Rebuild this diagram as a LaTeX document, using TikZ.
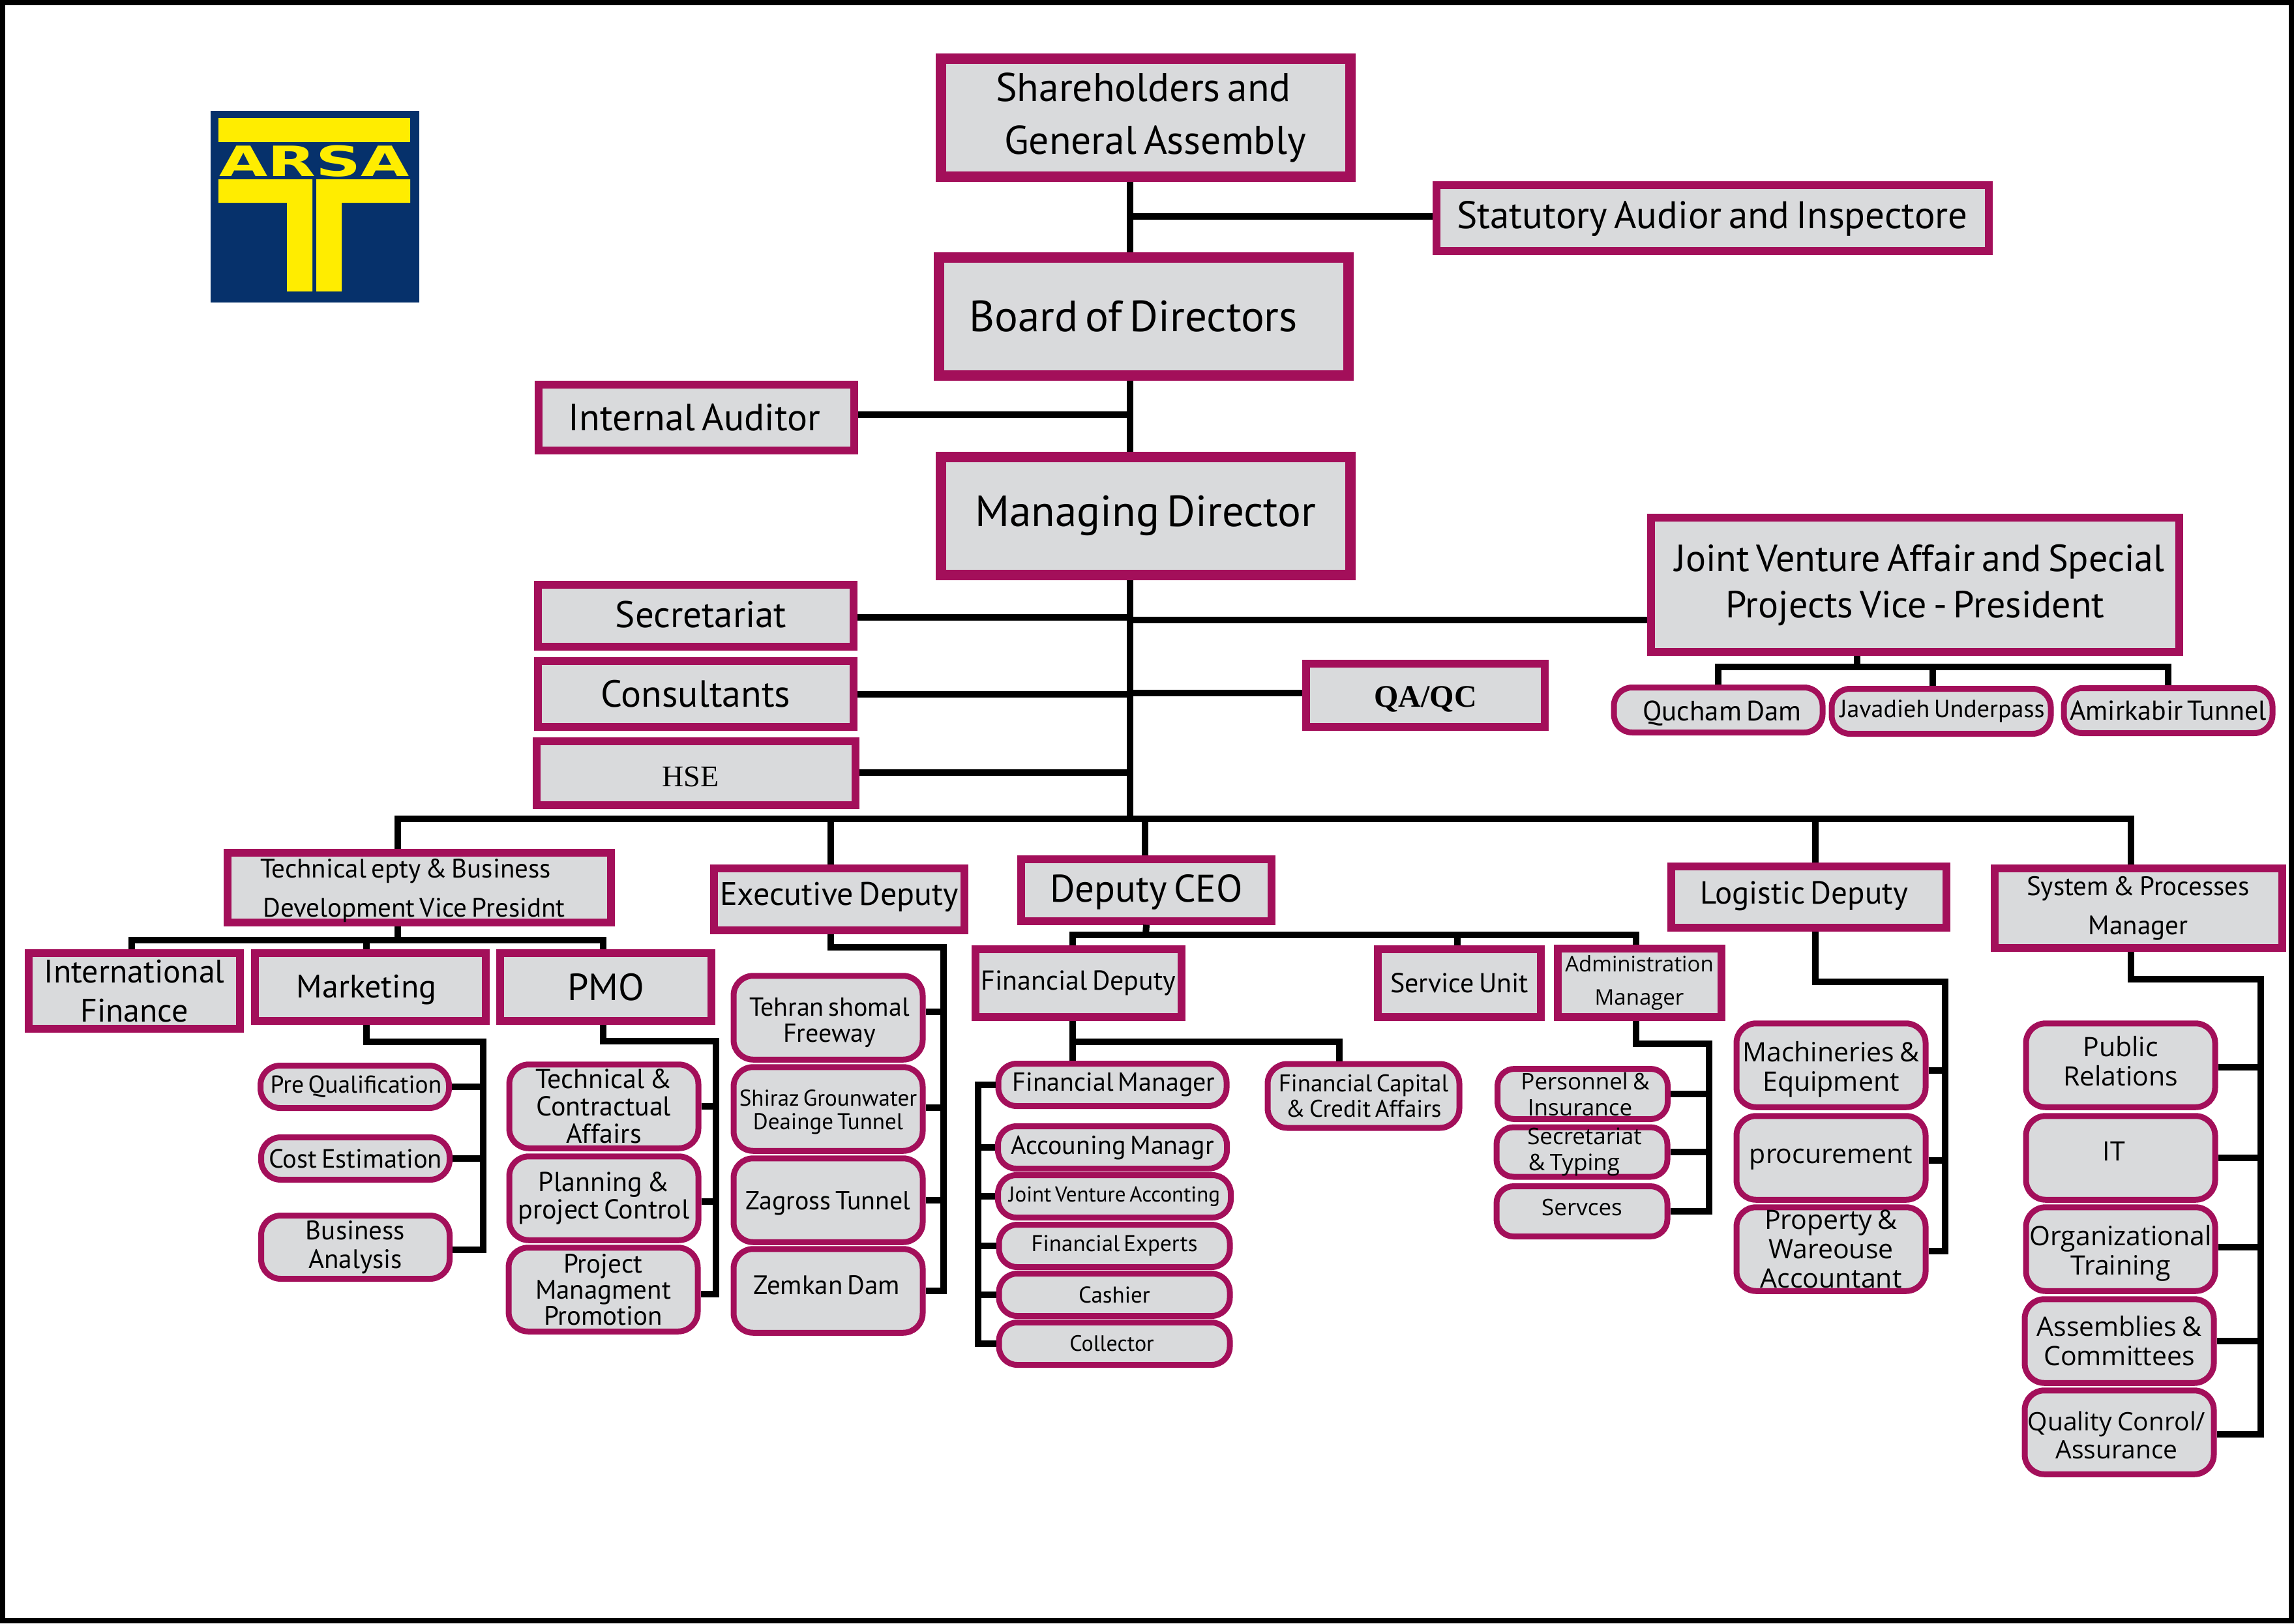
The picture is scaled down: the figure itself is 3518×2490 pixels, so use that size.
\documentclass[tikz,border=0pt]{standalone}
\usepackage{fontspec}
\usepackage{xcolor}
\usepackage{tikz}
\usetikzlibrary{arrows.meta,positioning,calc}
\setmainfont[WordSpace=0.65]{PT Sans}
\newfontfamily\widefont[WordSpace=0.8]{Open Sans}
\newfontfamily\timesfont{Liberation Serif}
\newfontfamily\logofont{DejaVu Sans}
\newcommand{\sz}[2]{\fontsize{#1}{#2}\selectfont}
\newcommand{\nudge}[3]{\makebox[0pt]{\hspace*{#1}\hspace*{#1}\raisebox{#2}[\height][\depth]{\begin{tabular}{@{}c@{}}#3\end{tabular}}}}
\definecolor{arsared}{RGB}{163,15,90}
\definecolor{arsagray}{RGB}{217,218,220}
\definecolor{arsanavy}{RGB}{6,49,107}
\definecolor{arsayellow}{RGB}{255,237,0}

\begin{document}
\begin{tikzpicture}[
    x=1pt, y=-1pt,
    dept/.style={rectangle, draw=arsared, fill=arsagray, line width=12pt, inner sep=0pt, align=center},
    topdept/.style={dept, line width=16pt, minimum width=628pt, minimum height=181pt, font=\sz{67}{81}},
    unit/.style={rectangle, rounded corners=30pt, draw=arsared, fill=arsagray, line width=9pt, inner sep=0pt, align=center},
    tallunit/.style={unit, minimum width=290pt, minimum height=128.5pt},
    slimunit/.style={unit, rounded corners=28pt, minimum height=65pt},
    wire/.style={draw=black, line width=10pt, miter limit=10}
]
    % frame
    \useasboundingbox (0,0) rectangle (3518,2490);
    \draw[black, line width=8pt] (4,4) rectangle (3514,2486);

    % logo
    \fill[arsanavy] (323,170) rectangle (643,464);
    \fill[arsayellow] (335,181) rectangle (629,218);
    \fill[arsayellow] (335,275) -- (479,275) -- (479,447) -- (440,447) -- (440,311) -- (335,311) -- cycle;
    \fill[arsayellow] (485,275) -- (629,275) -- (629,311) -- (524,311) -- (524,447) -- (485,447) -- cycle;
    \node[text=arsayellow, font=\logofont\bfseries\sz{64}{64}, inner sep=0pt, xscale=1.5, transform shape] (brand) at (482,247) {ARSA};

    % top of the chart
    \node[topdept, font=\sz{61.5}{81}] (share) at (1757,180) {\hspace*{-7pt}Shareholders and\\\hspace*{29pt}General Assembly};
    \node[topdept] (board) at (1754,485) {Board of Directors\hspace*{32pt}};
    \node[topdept] (managing) at (1757,791) {Managing Director};
    \node[dept, minimum width=847pt, minimum height=101pt, font=\sz{59}{60}] (statutory) at (2626,334) {\nudge{0pt}{-4pt}{Statutory Audior and Inspectore}};
    \node[dept, minimum width=484pt, minimum height=101pt, font=\sz{58}{60}] (internal) at (1068,640) {Internal Auditor\hspace*{6pt}};
    \node[dept, minimum width=810pt, minimum height=206pt, font=\sz{58}{71}] (jv) at (2937,897) {\hspace*{14pt}Joint Venture Affair and Special\\Projects Vice - President};
    \node[dept, minimum width=484pt, minimum height=95pt, font=\sz{57}{60}] (secretariat) at (1067,944) {\nudge{8pt}{-6pt}{Secretariat}};
    \node[dept, minimum width=484pt, minimum height=101pt, font=\sz{58}{60}] (consultants) at (1067,1064) {Consultants};
    \node[dept, minimum width=489pt, minimum height=98pt, font=\timesfont\sz{46}{50}] (hse) at (1067,1186) {\nudge{-8pt}{-10pt}{HSE}};
    \node[dept, minimum width=366pt, minimum height=97pt, font=\timesfont\bfseries\sz{48}{50}] (qaqc) at (2186,1066) {\nudge{0pt}{-8pt}{QA/QC}};

    % joint venture projects
    \node[slimunit, minimum width=320pt, minimum height=69pt, font=\sz{43}{44}] (qucham) at (2635,1089) {\nudge{6pt}{-8pt}{Qucham Dam}};
    \node[slimunit, minimum width=336pt, minimum height=69pt, font=\sz{38}{44}] (javadieh) at (2977,1091) {\hspace*{3pt}Javadieh Underpass};
    \node[slimunit, minimum width=320pt, minimum height=69pt, font=\sz{42}{44}] (amirkabir) at (3325,1090) {Amirkabir Tunnel};

    % deputies
    \node[dept, minimum width=588pt, minimum height=107pt, font=\sz{41}{60}] (technical) at (643,1361) {\hspace*{-42pt}\raisebox{-5pt}[\height][\depth]{Technical epty \& Business}\\\hspace*{-16pt}\raisebox{-5pt}[\height][\depth]{Development Vice Presidnt}};
    \node[dept, minimum width=324pt, minimum height=116pt, font=\sz{50}{60}] (intl) at (206,1520) {International\\Finance};
    \node[dept, minimum width=354pt, minimum height=104pt, font=\sz{50}{60}] (marketing) at (568,1514) {\nudge{-6pt}{-4pt}{Marketing}};
    \node[dept, minimum width=324pt, minimum height=104pt, font=\sz{58}{60}] (pmo) at (929,1514) {PMO};
    \node[dept, minimum width=384pt, minimum height=95pt, font=\sz{50}{56}] (exec) at (1287,1379) {\nudge{0pt}{2pt}{Executive Deputy}};
    \node[dept, minimum width=384pt, minimum height=95pt, font=\sz{59}{60}] (deputy) at (1758,1365) {\nudge{0pt}{-6pt}{Deputy CEO}};
    \node[dept, minimum width=316pt, minimum height=104pt, font=\sz{42}{50}] (findep) at (1654,1508) {Financial Deputy};
    \node[dept, minimum width=250pt, minimum height=104pt, font=\sz{42}{50}] (service) at (2238,1508) {Service Unit};
    \node[dept, minimum width=251pt, minimum height=105pt, font=\widefont\sz{33}{51}] (admin) at (2514,1507) {Administration\\Manager};
    \node[dept, minimum width=422pt, minimum height=94pt, font=\sz{49}{50}] (logistic) at (2774,1376) {\nudge{-7pt}{0pt}{Logistic Deputy}};
    \node[dept, minimum width=441pt, minimum height=122pt, font=\sz{41}{60}] (system) at (3279,1393) {System \& Processes\\Manager};

    % marketing and pmo units
    \node[unit, minimum width=289pt, minimum height=65pt, font=\sz{37.5}{40}] (prequal) at (544,1667) {\hspace*{4pt}Pre Qualification};
    \node[unit, minimum width=289pt, minimum height=65pt, font=\sz{40.5}{40}] (cost) at (545,1777) {Cost Estimation};
    \node[unit, minimum width=289pt, minimum height=97pt, font=\sz{41}{44}] (business) at (545,1913) {Business\\Analysis};
    \node[tallunit, font=\sz{42}{42}] (contract) at (926,1697) {Technical \&\\Contractual\\Affairs};
    \node[tallunit, font=\sz{42}{42}] (planning) at (926,1838) {Planning \&\\project Control};
    \node[tallunit, font=\sz{41}{40}] (promotion) at (925,1978) {Project\\Managment\\Promotion};

    % executive units
    \node[tallunit, font=\sz{40}{40}] (tehran) at (1270,1561) {\nudge{2pt}{-9pt}{Tehran shomal\\Freeway}};
    \node[tallunit, font=\sz{35}{36}] (shiraz) at (1270,1701) {\nudge{0pt}{-6pt}{Shiraz Grounwater\\Deainge Tunnel}};
    \node[tallunit, font=\sz{40}{42}] (zagross) at (1270,1841) {\nudge{0pt}{-6pt}{Zagross Tunnel}};
    \node[tallunit, font=\sz{41}{42}] (zemkan) at (1270,1980) {\nudge{-2pt}{3pt}{Zemkan Dam}};

    % financial units
    \node[slimunit, minimum width=350pt, font=\sz{40}{42}] (finmgr) at (1706,1664) {\hspace*{4pt}Financial Manager};
    \node[slimunit, minimum width=351pt, font=\sz{40}{42}] (accounting) at (1706,1760) {Accouning Managr};
    \node[slimunit, minimum width=357pt, font=\sz{33}{42}] (jvaccount) at (1709,1835) {Joint Venture Acconting};
    \node[slimunit, minimum width=354pt, font=\sz{35}{42}] (experts) at (1709,1911) {Financial Experts};
    \node[slimunit, minimum width=354pt, font=\sz{35}{42}] (cashier) at (1709,1986) {Cashier};
    \node[slimunit, minimum width=354pt, font=\sz{34}{42}] (collector) at (1709,2061) {Collector\hspace*{8pt}};
    \node[unit, minimum width=294pt, minimum height=98pt, font=\sz{37}{39}] (capital) at (2091,1681) {Financial Capital\\\& Credit Affairs};

    % administration units
    \node[unit, rounded corners=26pt, minimum width=261pt, minimum height=77pt, font=\widefont\sz{35}{40}] (personnel) at (2427,1678) {\hspace*{8pt}Personnel \&\\\hspace*{-8pt}Insurance};
    \node[unit, rounded corners=26pt, minimum width=262pt, minimum height=76pt, font=\widefont\sz{35}{40}] (typing) at (2426,1767) {\hspace*{8pt}Secretariat\\\hspace*{-24pt}\& Typing};
    \node[unit, rounded corners=26pt, minimum width=262pt, minimum height=77pt, font=\widefont\sz{35}{40}] (servces) at (2426,1858) {\nudge{0pt}{2pt}{Servces}};

    % logistic units
    \node[tallunit, font=\widefont\sz{41}{45}] (machinery) at (2808,1634) {\nudge{0pt}{-8pt}{Machineries \&\\Equipment}};
    \node[tallunit, font=\widefont\sz{41}{45}] (procurement) at (2808,1776) {procurement};
    \node[tallunit, font=\widefont\sz{41}{45}] (property) at (2808,1916) {Property \&\\Wareouse\\Accountant};

    % system units
    \node[tallunit, font=\widefont\sz{41}{45}] (public) at (3252,1634) {\nudge{0pt}{0pt}{Public\\Relations}};
    \node[tallunit, font=\widefont\sz{41}{45}] (it) at (3252,1776) {\nudge{-10pt}{5pt}{IT}};
    \node[tallunit, font=\widefont\sz{41}{45}] (training) at (3252,1916) {\nudge{0pt}{-8pt}{Organizational\\Training}};
    \node[tallunit, font=\widefont\sz{41}{45}] (assemblies) at (3250,2057) {Assemblies \&\\Committees};
    \node[tallunit, font=\widefont\sz{39}{43}] (quality) at (3250,2197) {\nudge{-4pt}{-10pt}{Quality Conrol/\\Assurance}};

    % junctions
    \coordinate (trunk) at (1733,1256);
    \coordinate (busw) at (610,1256);
    \coordinate (buse) at (3268,1256);
    \coordinate (exec-top) at (1274,1256);
    \coordinate (deputy-top) at (1756,1256);
    \coordinate (logistic-top) at (2784,1256);
    \coordinate (jvbus) at (2848,1023);
    \coordinate (jvmid) at (2964,1023);
    \coordinate (techbus) at (610,1442);
    \coordinate (techw) at (202,1442);
    \coordinate (techm) at (562,1442);
    \coordinate (teche) at (925,1442);
    \coordinate (depbus) at (1757,1434);
    \coordinate (depw) at (1645,1434);
    \coordinate (depm) at (2235,1434);
    \coordinate (depe) at (2509,1434);
    \coordinate (findrop) at (1645,1598);
    \coordinate (finright) at (2054,1598);
    \coordinate (finrail) at (1500,1665);
    \coordinate (mktbend) at (562,1598);
    \coordinate (mktrail) at (741,1598);
    \coordinate (pmobend) at (925,1597);
    \coordinate (pmorail) at (1098,1597);
    \coordinate (exebend) at (1274,1453);
    \coordinate (exerail) at (1447,1453);
    \coordinate (admbend) at (2509,1601);
    \coordinate (admrail) at (2621,1601);
    \coordinate (logbend) at (2784,1506);
    \coordinate (lograil) at (2983,1506);
    \coordinate (sysbend) at (3268,1502);
    \coordinate (sysrail) at (3467,1502);

    % connectors
    \draw[wire] (share.south -| trunk) -- (board.north -| trunk);
    \draw[wire] (board.south -| trunk) -- (managing.north -| trunk);
    \draw[wire] (managing.south -| trunk) -- (trunk);
    \foreach \n/\s in {statutory.west/2, internal.east/4, secretariat.east/-3, consultants.east/-1, hse.east/1, qaqc.west/3, jv.west/-54}
        \draw[wire] ([yshift=\s pt]\n) -- ([yshift=\s pt]\n -| trunk);

    \draw[wire] (busw |- technical.north) -- (busw) -- (buse) -- (buse |- system.north);
    \foreach \n in {exec, deputy, logistic}
        \draw[wire] (\n-top) -- (\n-top |- \n.north);

    \draw[wire] (jvbus |- jv.south) -- (jvbus);
    \draw[wire] (qucham.north) |- (jvbus) -| (amirkabir.north);
    \draw[wire] (jvmid) -- (jvmid |- javadieh.north);

    \draw[wire] (techbus |- technical.south) -- (techbus);
    \draw[wire] (techw |- intl.north) -- (techw) -- (teche) -- (teche |- pmo.north);
    \draw[wire] (techm) -- (techm |- marketing.north);

    \draw[wire] (deputy.south) -- (depbus);
    \draw[wire] (depw |- findep.north) -- (depw) -- (depe) -- (depe |- admin.north);
    \draw[wire] (depm) -- (depm |- service.north);

    \draw[wire] (findrop |- findep.south) -- (findrop |- finmgr.north);
    \draw[wire] (findrop) -- (finright) -- (finright |- capital.north);
    \draw[wire] (finmgr.west) -- (finrail |- finmgr.west) -- (finrail |- collector.west) -- (collector.west);
    \foreach \n in {accounting, jvaccount, experts, cashier}
        \draw[wire] (\n.west) -- (\n.west -| finrail);

    \draw[wire] (mktbend |- marketing.south) -- (mktbend) -- (mktrail) -- ([yshift=-4pt]business.east -| mktrail) -- ([yshift=-4pt]business.east);
    \foreach \n in {prequal, cost}
        \draw[wire] (\n.east) -- (\n.east -| mktrail);

    \draw[wire] (pmobend |- pmo.south) -- (pmobend) -- (pmorail) -- ([yshift=-7pt]promotion.east -| pmorail) -- ([yshift=-7pt]promotion.east);
    \foreach \n/\s in {contract/0, planning/-5}
        \draw[wire] ([yshift=\s pt]\n.east) -- ([yshift=\s pt]\n.east -| pmorail);

    \draw[wire] (exebend |- exec.south) -- (exebend) -- (exerail) -- (exerail |- zemkan.east) -- (zemkan.east);
    \foreach \n/\s in {tehran/9, shiraz/2, zagross/0}
        \draw[wire] ([yshift=\s pt]\n.east) -- ([yshift=\s pt]\n.east -| exerail);

    \draw[wire] (admbend |- admin.south) -- (admbend) -- (admrail) -- (admrail |- servces.east) -- (servces.east);
    \foreach \n in {personnel, typing}
        \draw[wire] (\n.east) -- (\n.east -| admrail);

    \draw[wire] (logbend |- logistic.south) -- (logbend) -- (lograil) -- ([yshift=-3pt]property.east -| lograil) -- ([yshift=-3pt]property.east);
    \foreach \n/\s in {machinery/-8, procurement/-4}
        \draw[wire] ([yshift=\s pt]\n.east) -- ([yshift=\s pt]\n.east -| lograil);

    \draw[wire] (sysbend |- system.south) -- (sysbend) -- (sysrail) -- ([yshift=-3pt]quality.east -| sysrail) -- ([yshift=-3pt]quality.east);
    \foreach \n/\s in {public/-3, it/0, training/3, assemblies/0}
        \draw[wire] ([yshift=\s pt]\n.east) -- ([yshift=\s pt]\n.east -| sysrail);
\end{tikzpicture}
\end{document}
